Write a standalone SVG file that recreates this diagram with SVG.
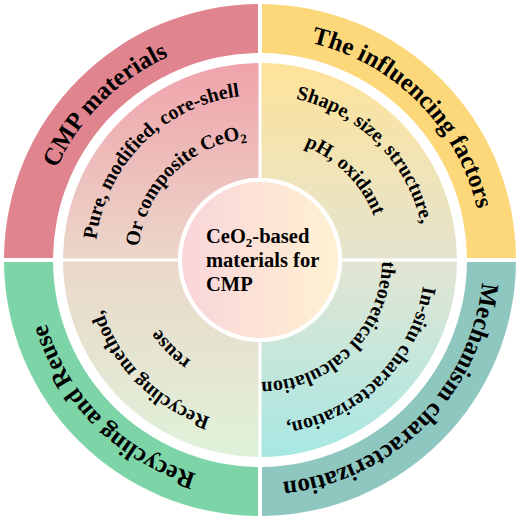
<svg xmlns="http://www.w3.org/2000/svg" xmlns:xlink="http://www.w3.org/1999/xlink" width="520" height="520" viewBox="0 0 520 520">
<style>
  text { font-family: "Liberation Serif", "Times New Roman", serif; font-weight: bold; fill: #000; }
  .outer { font-size: 25px; }
  .inner { font-size: 20px; }
  .center { font-size: 20.5px; }
</style>
<defs>
  <linearGradient id="gTL" gradientUnits="userSpaceOnUse" x1="0" y1="63" x2="0" y2="258">
    <stop offset="0" stop-color="#F0A3AB"/>
    <stop offset="1" stop-color="#EBD6CA"/>
  </linearGradient>
  <linearGradient id="gTR" gradientUnits="userSpaceOnUse" x1="0" y1="63" x2="0" y2="258">
    <stop offset="0" stop-color="#FEE39A"/>
    <stop offset="1" stop-color="#E5E4CF"/>
  </linearGradient>
  <linearGradient id="gBR" gradientUnits="userSpaceOnUse" x1="0" y1="262" x2="0" y2="457">
    <stop offset="0" stop-color="#E3E6D3"/>
    <stop offset="1" stop-color="#A7E7E3"/>
  </linearGradient>
  <linearGradient id="gBL" gradientUnits="userSpaceOnUse" x1="0" y1="262" x2="0" y2="457">
    <stop offset="0" stop-color="#EBD8CA"/>
    <stop offset="1" stop-color="#DFF2DA"/>
  </linearGradient>
  <linearGradient id="gC" x1="0" y1="0" x2="1" y2="0">
    <stop offset="0" stop-color="#F9D5DA"/>
    <stop offset="1" stop-color="#FFF1D2"/>
  </linearGradient>
  <path id="oTL" d="M 37,260 A 223 223 0 0 1 260,37"/>
  <path id="oTR" d="M 260,37 A 223 223 0 0 1 483,260"/>
  <path id="oBR" d="M 483,260 A 223 223 0 0 1 260,483"/>
  <path id="oBL" d="M 260,483 A 223 223 0 0 1 37,260"/>
  <path id="aTL" d="M 95,260 A 165 165 0 0 1 260,95"/>
  <path id="aTR" d="M 260,95 A 165 165 0 0 1 425,260"/>
  <path id="aBR" d="M 425,260 A 165 165 0 0 1 260,425"/>
  <path id="aBL" d="M 260,425 A 165 165 0 0 1 95,260"/>
  <path id="bTL" d="M 138,260 A 122 122 0 0 1 260,138"/>
  <path id="bTR" d="M 260,138 A 122 122 0 0 1 382,260"/>
  <path id="bBR" d="M 382,260 A 122 122 0 0 1 260,382"/>
  <path id="bBL" d="M 260,382 A 122 122 0 0 1 138,260"/>
</defs>
<rect width="520" height="520" fill="#fff"/>

<g id="cmp-materials">
  <path d="M 258,4 A 256 256 0 0 0 4,258 L 53,258 A 207 207 0 0 1 258,53 Z" fill="#E0858F"/>
  <path d="M 258.5,63 A 197 197 0 0 0 63,258.5 L 178,258.5 A 82 82 0 0 1 258.5,178 Z" fill="url(#gTL)"/>
  <text class="outer"><textPath xlink:href="#oTL" href="#oTL" startOffset="50%" text-anchor="middle">CMP materials</textPath></text>
  <text class="inner"><textPath xlink:href="#aTL" href="#aTL" startOffset="50%" text-anchor="middle">Pure, modified, core-shell</textPath></text>
  <text class="inner"><textPath xlink:href="#bTL" href="#bTL" startOffset="50%" text-anchor="middle">Or composite CeO<tspan font-size="13" dy="4">2</tspan></textPath></text>
</g>

<g id="influencing-factors">
  <path d="M 262,4 A 256 256 0 0 1 516,258 L 467,258 A 207 207 0 0 0 262,53 Z" fill="#FDD87B"/>
  <path d="M 261.5,63 A 197 197 0 0 1 457,258.5 L 342,258.5 A 82 82 0 0 0 261.5,178 Z" fill="url(#gTR)"/>
  <text class="outer"><textPath xlink:href="#oTR" href="#oTR" startOffset="50%" text-anchor="middle">The influencing factors</textPath></text>
  <text class="inner"><textPath xlink:href="#aTR" href="#aTR" startOffset="50%" text-anchor="middle">Shape, size, structure,</textPath></text>
  <text class="inner"><textPath xlink:href="#bTR" href="#bTR" startOffset="50%" text-anchor="middle">pH, oxidant</textPath></text>
</g>

<g id="mechanism-characterization">
  <path d="M 516,262 A 256 256 0 0 1 262,516 L 262,467 A 207 207 0 0 0 467,262 Z" fill="#8EC6C0"/>
  <path d="M 457,261.5 A 197 197 0 0 1 261.5,457 L 261.5,342 A 82 82 0 0 0 342,261.5 Z" fill="url(#gBR)"/>
  <text class="outer"><textPath xlink:href="#oBR" href="#oBR" startOffset="50%" text-anchor="middle">Mechanism characterization</textPath></text>
  <text class="inner"><textPath xlink:href="#aBR" href="#aBR" startOffset="50%" text-anchor="middle">In-situ characterization,</textPath></text>
  <text class="inner"><textPath xlink:href="#bBR" href="#bBR" startOffset="50%" text-anchor="middle">theoretical calculation</textPath></text>
</g>

<g id="recycling-reuse">
  <path d="M 258,516 A 256 256 0 0 1 4,262 L 53,262 A 207 207 0 0 0 258,467 Z" fill="#7DD4A7"/>
  <path d="M 258.5,457 A 197 197 0 0 1 63,261.5 L 178,261.5 A 82 82 0 0 0 258.5,342 Z" fill="url(#gBL)"/>
  <text class="outer"><textPath xlink:href="#oBL" href="#oBL" startOffset="50%" text-anchor="middle">Recycling and Reuse</textPath></text>
  <text class="inner"><textPath xlink:href="#aBL" href="#aBL" startOffset="50%" text-anchor="middle">Recycling method,</textPath></text>
  <text class="inner"><textPath xlink:href="#bBL" href="#bBL" startOffset="50%" text-anchor="middle">reuse</textPath></text>
</g>

<g id="center">
  <circle cx="260" cy="260" r="80" fill="url(#gC)" stroke="#fff" stroke-width="4"/>
  <text class="center" x="206" y="243">CeO<tspan font-size="13" dy="4">2</tspan><tspan dy="-4">-based</tspan></text>
  <text class="center" x="206" y="267">materials for</text>
  <text class="center" x="206" y="291">CMP</text>
</g>

<g id="connectors"></g>
</svg>
